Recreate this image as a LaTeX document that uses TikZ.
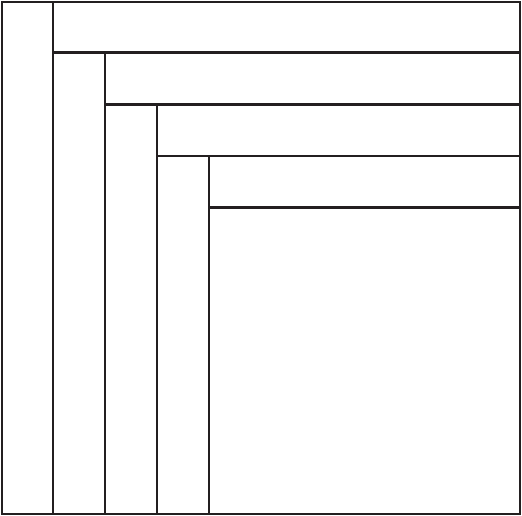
\documentclass[tikz,border=0pt]{standalone}
\definecolor{ink}{HTML}{231F20}
\begin{document}
\begin{tikzpicture}[x=1pt,y=-1pt,
  bar/.style={draw=ink,line width=2.5pt,line cap=rect}]
\useasboundingbox (0,0) rectangle (522,516);
\coordinate (tl) at (2.2,2.2);
\coordinate (br) at (519.8,513.8);
\draw[bar] (tl) rectangle (br);
\draw[bar] (53.2,2.2) -- (53.2,513.8);
\draw[bar] (53.2,52.3) -- (519.8,52.3);
\draw[bar] (105.2,52.3) -- (105.2,513.8);
\draw[bar] (105.2,104.3) -- (519.8,104.3);
\draw[bar] (157.2,104.3) -- (157.2,513.8);
\draw[bar] (157.2,156) -- (519.8,156);
\draw[bar] (209.2,156) -- (209.2,513.8);
\draw[bar] (209.2,207.3) -- (519.8,207.3);
\end{tikzpicture}
\end{document}
